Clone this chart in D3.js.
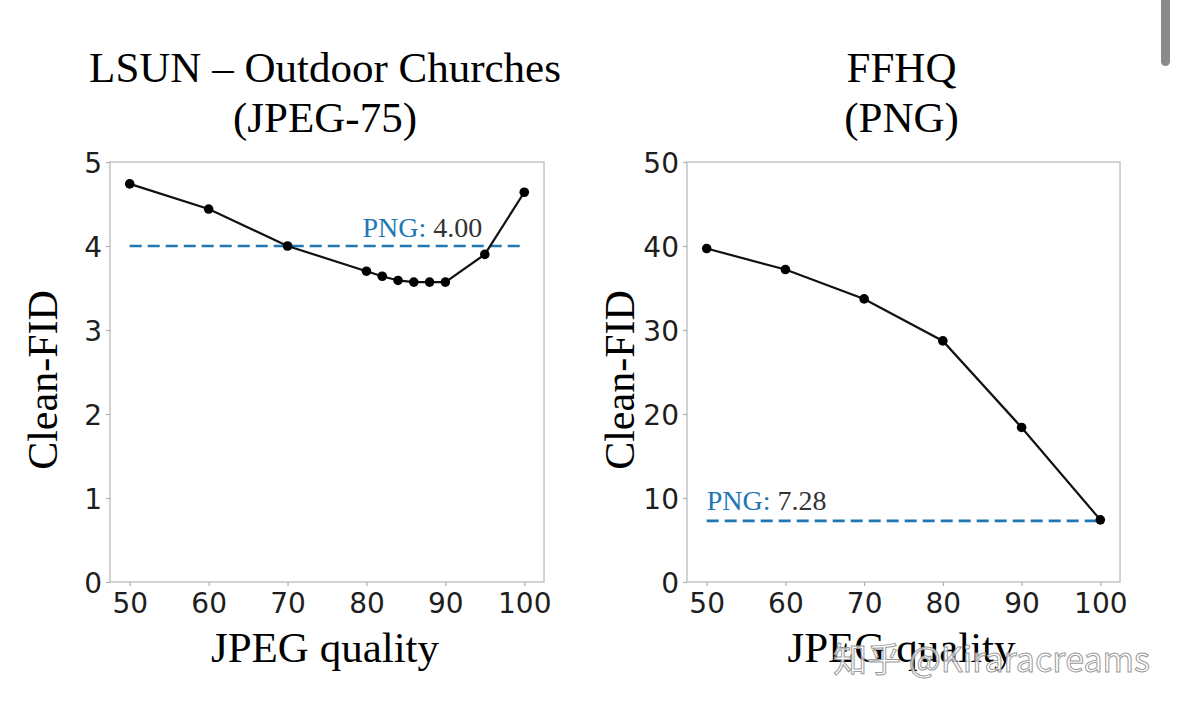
<!DOCTYPE html>
<html>
<head>
<meta charset="utf-8">
<script src="https://cdn.jsdelivr.net/npm/d3@7"></script>
<style>
  body { margin: 0; background: #fff; }
  svg { display: block; }
</style>
</head>
<body>
<div id="chart"></div>
<script>
let chart_width = 1179;
let chart_height = 707;

// left panel: LSUN churches
let lsun_quality = [50, 60, 70, 80, 82, 84, 86, 88, 90, 95, 100];
let lsun_fid = [4.74, 4.44, 4.00, 3.70, 3.64, 3.59, 3.57, 3.57, 3.57, 3.90, 4.64];
let lsun_png = 4.00;
let lsun_yticks = [0, 1, 2, 3, 4, 5];

// right panel: FFHQ
let ffhq_quality = [50, 60, 70, 80, 90, 100];
let ffhq_fid = [39.7, 37.2, 33.7, 28.7, 18.4, 7.4];
let ffhq_png = 7.28;
let ffhq_yticks = [0, 10, 20, 30, 40, 50];

let xticks = [50, 60, 70, 80, 90, 100];

let serif = "'Liberation Serif', 'Times New Roman', serif";
let sans = "'DejaVu Sans', sans-serif";
let png_blue = "#1f77b4";

let svg = d3
  .select("#chart")
  .append("svg")
  .attr("width", chart_width)
  .attr("height", chart_height);

function drawPanel(p) {
  let x = d3.scaleLinear().domain([47.5, 102.5]).range([p.left, p.right]);
  let y = d3.scaleLinear().domain([0, p.ymax]).range([p.bottom, p.top]);

  let g = svg.append("g");

  //frame
  g.append("rect")
    .attr("x", p.left)
    .attr("y", p.top)
    .attr("width", p.right - p.left)
    .attr("height", p.bottom - p.top)
    .attr("fill", "none")
    .attr("stroke", "#c4c4c4")
    .attr("stroke-width", 1.5);

  //axes
  let xAxis = d3.axisBottom(x).tickValues(xticks).tickFormat(d3.format("d")).tickSize(4).tickPadding(5);
  let yAxis = d3.axisLeft(y).tickValues(p.yticks).tickFormat(d3.format("d")).tickSize(4).tickPadding(4);

  let gx = g.append("g").attr("transform", "translate(0," + p.bottom + ")").call(xAxis);
  let gy = g.append("g").attr("transform", "translate(" + p.left + ",0)").call(yAxis);

  [gx, gy].forEach(function (a) {
    a.select(".domain").remove();
    a.selectAll(".tick line").attr("stroke", "#b0b0b0").attr("stroke-width", 1.2);
    a.selectAll(".tick text")
      .attr("fill", "#1e1e1e")
      .style("font-family", sans)
      .style("font-size", "28px");
  });
  gx.selectAll(".tick text").attr("dy", "0.8em");
  gy.selectAll(".tick text").attr("dy", "0.36em");

  //png reference line
  g.append("line")
    .attr("x1", x(50))
    .attr("x2", x(100))
    .attr("y1", y(p.png))
    .attr("y2", y(p.png))
    .attr("stroke", png_blue)
    .attr("stroke-width", 2.6)
    .attr("stroke-dasharray", "12,6");

  let note = g.append("text")
    .attr("x", x(p.noteX))
    .attr("y", y(p.png) + p.noteDy)
    .style("font-family", serif)
    .style("font-size", "28px");
  note.append("tspan").attr("fill", png_blue).text("PNG: ");
  note.append("tspan").attr("fill", "#333").text(p.png.toFixed(2));

  //curve
  let pts = p.qx.map(function (q, i) { return [q, p.fid[i]]; });
  let line = d3.line()
    .x(function (d) { return x(d[0]); })
    .y(function (d) { return y(d[1]); });

  g.append("path")
    .datum(pts)
    .attr("d", line)
    .attr("fill", "none")
    .attr("stroke", "#111")
    .attr("stroke-width", 2.2);

  g.selectAll("circle")
    .data(pts)
    .enter()
    .append("circle")
    .attr("cx", function (d) { return x(d[0]); })
    .attr("cy", function (d) { return y(d[1]); })
    .attr("r", 4.8)
    .attr("fill", "#000");

  //titles and labels
  let cx = (p.left + p.right) / 2 - 2;
  p.title.forEach(function (t, i) {
    g.append("text")
      .attr("x", cx)
      .attr("y", 82 + i * 50)
      .attr("text-anchor", "middle")
      .attr("fill", "#000")
      .style("font-family", serif)
      .style("font-size", "43px")
      .text(t);
  });

  g.append("text")
    .attr("x", cx)
    .attr("y", 662)
    .attr("text-anchor", "middle")
    .attr("fill", "#000")
    .style("font-family", serif)
    .style("font-size", "43px")
    .text("JPEG quality");

  g.append("text")
    .attr("transform", "translate(" + (p.left - 53) + "," + ((p.top + p.bottom) / 2 + 8) + ") rotate(-90)")
    .attr("text-anchor", "middle")
    .attr("fill", "#000")
    .style("font-family", serif)
    .style("font-size", "42px")
    .text("Clean-FID");
}

drawPanel({
  left: 110, right: 544, top: 162, bottom: 582,
  ymax: 5, yticks: lsun_yticks,
  qx: lsun_quality, fid: lsun_fid, png: lsun_png,
  noteX: 79.5, noteDy: -9,
  title: ["LSUN \u2013 Outdoor Churches", "(JPEG-75)"]
});

drawPanel({
  left: 687, right: 1120, top: 162, bottom: 582,
  ymax: 50, yticks: ffhq_yticks,
  qx: ffhq_quality, fid: ffhq_fid, png: ffhq_png,
  noteX: 50, noteDy: -11,
  title: ["FFHQ", "(PNG)"]
});

//watermark
svg.append("text")
  .attr("x", 1150)
  .attr("y", 672)
  .attr("text-anchor", "end")
  .attr("fill", "#ffffff")
  .attr("fill-opacity", 0.75)
  .attr("stroke", "#9a9a9a")
  .attr("stroke-width", 1)
  .style("font-family", "'Noto Sans CJK SC', sans-serif")
  .style("font-size", "34px")
  .text("知乎 @Kiraracreams");

//scrollbar from the screenshot
svg.append("rect")
  .attr("x", 1161)
  .attr("y", -8)
  .attr("width", 9)
  .attr("height", 74)
  .attr("rx", 4.5)
  .attr("fill", "#8a8a8a");
</script>
</body>
</html>
